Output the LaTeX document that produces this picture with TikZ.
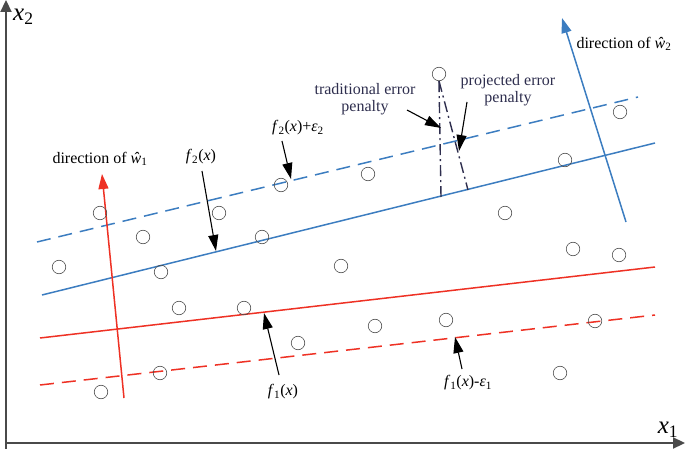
\documentclass[tikz,border=0pt]{standalone}
\usepackage{fontspec}
\setmainfont{Liberation Serif}
\usetikzlibrary{arrows.meta}
\definecolor{bl}{HTML}{3C7DC0}
\definecolor{rd}{HTML}{EE3124}
\definecolor{ax}{HTML}{4A4A4A}
\definecolor{nv}{HTML}{2E2E4E}
\tikzset{
  pt/.style={circle,draw=black!70,line width=0.6pt,minimum size=13.5pt,inner sep=0pt},
  lbl/.style={font=\fontsize{16}{17}\selectfont,inner sep=1pt,align=center},
  ann/.style={-{Triangle[length=16pt,width=10pt]},line width=1.1pt,black},
  blueline/.style={bl,line width=1.5pt},
  redline/.style={rd,line width=1.5pt},
  dsh/.style={dash pattern=on 14pt off 8pt},
  dd/.style={nv,line width=1.4pt,dash pattern=on 11pt off 4pt on 2pt off 4pt},
  axis/.style={ax,line width=2.2pt,-{Triangle[length=12pt,width=11pt]}}
}
\begin{document}
\begin{tikzpicture}[x={(1pt,0)},y={(0,-1pt)}]
\path[use as bounding box] (0,0) rectangle (685,449);
% axes
\coordinate (O) at (6,443);
\coordinate (Ytop) at (6,0);
\coordinate (Xend) at (685,443);
\draw[axis] (O) -- (Ytop);
\draw[axis] (O) -- (Xend);
\draw[ax,line width=2.2pt] (6,449) -- (O);
\node[font=\fontsize{25}{26}\selectfont,anchor=west,inner sep=0pt] (x2) at (13,17) {\textit{x}\textsubscript{2}};
\node[font=\fontsize{25}{26}\selectfont,inner sep=0pt] (x1) at (668,430) {\textit{x}\textsubscript{1}};
% lines
\coordinate (bd1) at (37,242); \coordinate (bd2) at (638,97);
\coordinate (bs1) at (42,295); \coordinate (bs2) at (655,143);
\coordinate (rs1) at (40,338); \coordinate (rs2) at (655,267);
\coordinate (rd1) at (40,385); \coordinate (rd2) at (655,315);
\draw[blueline,dsh] (bd1) -- (bd2);
\draw[blueline] (bs1) -- (bs2);
\draw[redline] (rs1) -- (rs2);
\draw[redline,dsh] (rd1) -- (rd2);
% direction arrows
\coordinate (w1a) at (124,398); \coordinate (w1b) at (102,174);
\coordinate (w2a) at (626,222); \coordinate (w2b) at (562,18);
\draw[redline,-{Triangle[length=15pt,width=10pt]}] (w1a) -- (w1b);
\draw[blueline,-{Triangle[length=15pt,width=10pt]}] (w2a) -- (w2b);
\node[lbl] (dw1) at (100,159) {direction of \textit{ŵ}\textsubscript{1}};
\node[lbl] (dw2) at (624,44) {direction of \textit{ŵ}\textsubscript{2}};
% points
\foreach \n/\x/\y in {a/100/213,b/143/237,c/219/213,d/281/185,e/368/174,f/439/74,g/505/213,h/565/160,i/620/112,j/59/267,k/161/272,l/262/237,m/341/266,n/573/249,o/619/255,p/179/308,q/244/308,r/298/343,s/375/326,t/446/320,u/595/321,v/160/373,w/101/392,z/560/373}
  \node[pt] (p\n) at (\x,\y) {};
% error penalties
\coordinate (tr) at (441,197);
\coordinate (pr) at (468,190);
\draw[dd] (pf.south) -- (tr);
\draw[dd] (pf.south) -- (pr);
\node[lbl,text=nv] (tep) at (365,99) {traditional error\\penalty};
\node[lbl,text=nv] (pep) at (508,90) {projected error\\penalty};
\coordinate (tepA) at (407,110); \coordinate (tepB) at (441,128);
\coordinate (pepA) at (467,102); \coordinate (pepB) at (459,151);
\draw[ann] (tepA) -- (tepB);
\draw[ann] (pepA) -- (pepB);
% function labels
\node[lbl] (f2e) at (298,128) {\textit{f}\textsubscript{2}(\textit{x})+\textit{ε}\textsubscript{2}};
\node[lbl] (f2) at (201,157) {\textit{f}\textsubscript{2}(\textit{x})};
\node[lbl] (f1) at (283,392) {\textit{f}\textsubscript{1}(\textit{x})};
\node[lbl] (f1e) at (468,383) {\textit{f}\textsubscript{1}(\textit{x})-\textit{ε}\textsubscript{1}};
\coordinate (f2eA) at (282,141); \coordinate (f2eB) at (291,179);
\coordinate (f2A) at (202,171); \coordinate (f2B) at (216,251);
\coordinate (f1A) at (279,375); \coordinate (f1B) at (264,313);
\coordinate (f1eA) at (462,369); \coordinate (f1eB) at (455,337);
\draw[ann] (f2eA) -- (f2eB);
\draw[ann] (f2A) -- (f2B);
\draw[ann] (f1A) -- (f1B);
\draw[ann] (f1eA) -- (f1eB);
\end{tikzpicture}
\end{document}
